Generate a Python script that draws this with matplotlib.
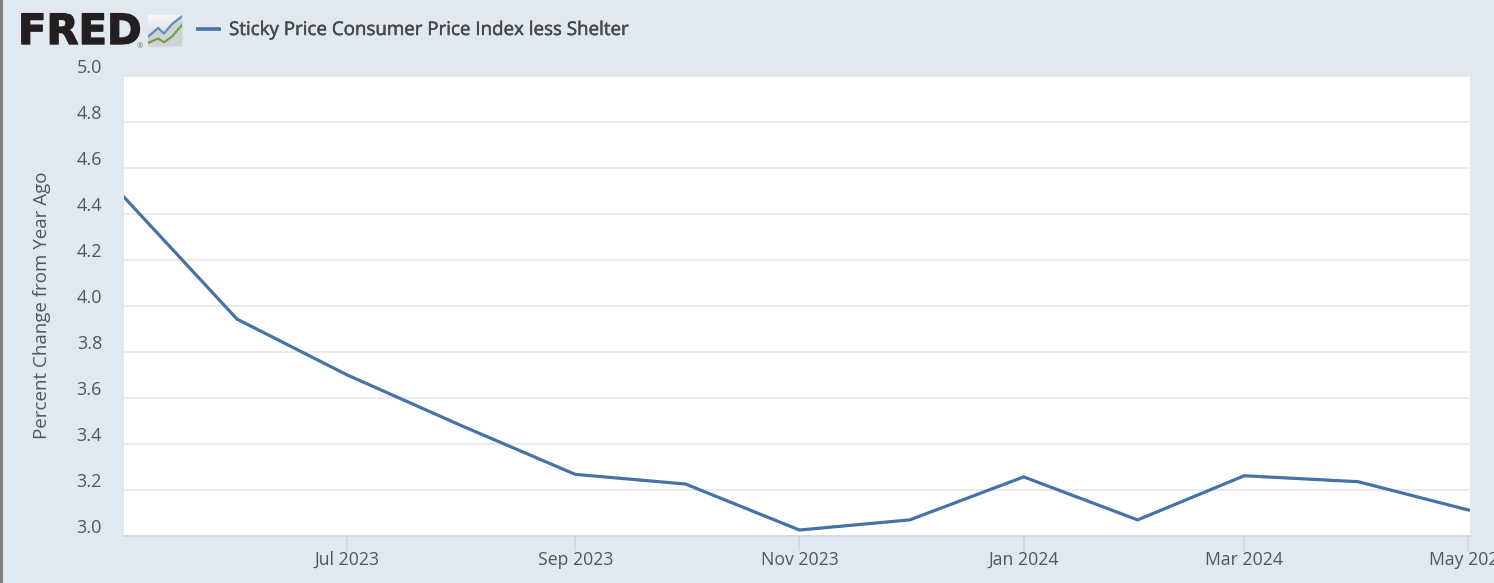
import matplotlib
matplotlib.use('Agg')
import matplotlib.pyplot as plt
import matplotlib.dates as mdates
import matplotlib.patheffects as pe
from matplotlib.patches import Rectangle
import numpy as np
import pandas as pd

W, H = 1494, 583

months = pd.date_range('2023-05-01', '2024-05-01', freq='MS')
values = [4.478, 3.943, 3.70, 3.48, 3.268, 3.226, 3.026, 3.07, 3.257, 3.07, 3.262, 3.236, 3.113]
tick_dates = pd.to_datetime(['2023-07-01', '2023-09-01', '2023-11-01', '2024-01-01', '2024-03-01', '2024-05-01'])
y_ticks = [3.0, 3.2, 3.4, 3.6, 3.8, 4.0, 4.2, 4.4, 4.6, 4.8, 5.0]
series_name = 'Sticky Price Consumer Price Index less Shelter'
y_title = 'Percent Change from Year Ago'
icon_x = [0.0, 0.3, 0.47, 0.7, 1.0]
icon_blue = [0.30, 0.58, 0.40, 0.70, 0.96]
icon_green = [0.10, 0.24, 0.12, 0.30, 0.68]

bg = '#e1e9f0'
text_col = '#555555'
line_col = '#4572a7'
grid_col = '#e8e8e8'
axis_col = '#ccd6eb'

plt.rcParams['font.family'] = ['Open Sans', 'DejaVu Sans']

fig = plt.figure(figsize=(W / 100, H / 100), dpi=100, facecolor=bg)

def box(l, t, r, b):
    return [l / W, 1 - b / H, (r - l) / W, (b - t) / H]

ax = fig.add_axes(box(124, 76, 1470, 536))
ax.plot(months, values, color=line_col, lw=2.3, solid_joinstyle='miter', clip_on=True)
# axis starts a hair after the first point and runs a hair past the last tick
ax.set_xlim(months[0] + pd.Timedelta(hours=6), months[-1] + pd.Timedelta(hours=10))
ax.set_ylim(3.0, 5.0)
ax.set_yticks(y_ticks)
ax.set_yticklabels([])
ax.grid(axis='y', color=grid_col, lw=1.2)
ax.set_axisbelow(True)
ax.set_xticks(tick_dates)
ax.xaxis.set_major_formatter(mdates.DateFormatter('%b %Y'))
ax.tick_params(axis='x', length=10.5, width=1.2, color=axis_col, labelcolor=text_col,
               labelsize=12.7, pad=0.5)
ax.tick_params(axis='y', length=0)
for side in ['top', 'left', 'right']:
    ax.spines[side].set_visible(False)
ax.spines['bottom'].set_color(axis_col)
ax.spines['bottom'].set_linewidth(1.2)

# y labels sit above their gridlines, like the original
trans = ax.get_yaxis_transform()
for v in y_ticks:
    ax.annotate(f'{v:.1f}', xy=(0, v), xycoords=trans, xytext=(-22, 8), textcoords='offset pixels',
                ha='right', va='center', fontsize=13, color=text_col)

fig.text(42 / W, 1 - 305 / H, y_title, rotation=90, ha='center', va='center',
         fontsize=13.5, color=text_col)

# left window edge
fig.add_artist(Rectangle((0, 0), 3 / W, 1, transform=fig.transFigure, color='#7f7f7f', lw=0))

# logo
fig.text(18 / W, 1 - 32 / H, 'FRED', fontsize=30, fontweight='bold', family=['DejaVu Sans'],
         color='#231f20', ha='left', va='center',
         path_effects=[pe.withStroke(linewidth=1.0, foreground='#231f20')])
fig.text(140 / W, 1 - 47 / H, '®', fontsize=5.5, color='#666666', ha='center', va='center')

icon = fig.add_axes(box(148, 15, 182, 46))
icon.imshow(np.linspace(0.96, 0.82, 32).reshape(-1, 1), cmap='gray', vmin=0, vmax=1, aspect='auto',
            extent=[0, 1, 0, 1])
icon.fill_between(icon_x, icon_blue, 0, color='#cfd3d3', lw=0)
icon.plot(icon_x, icon_blue, color='#5f8fb4', lw=1.6)
icon.plot(icon_x, icon_green, color='#71a04a', lw=1.6)
icon.set_xlim(0, 1)
icon.set_ylim(0, 1)
icon.axis('off')

# legend
fig.add_artist(plt.Line2D([196 / W, 221 / W], [1 - 29 / H] * 2, color=line_col, lw=2.6,
                          solid_capstyle='butt'))
fig.text(229 / W, 1 - 30 / H, series_name, fontsize=13.5, color='#484848', ha='left', va='center',
         path_effects=[pe.withStroke(linewidth=0.35, foreground='#484848')])

fig.savefig('out.png', dpi=100, facecolor=bg)
